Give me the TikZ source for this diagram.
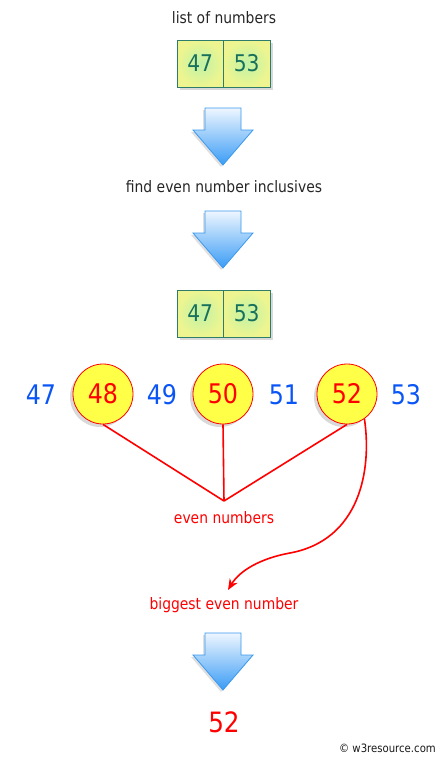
\documentclass[tikz,border=0pt]{standalone}
\usepackage{fontspec}
\setmainfont{DejaVu Sans}[FakeStretch=0.88]
\usetikzlibrary{shadows,arrows.meta}
\definecolor{boxline}{HTML}{2E7D6B}
\definecolor{boxtext}{HTML}{16705C}
\definecolor{cellin}{HTML}{C0F2A6}
\definecolor{cellout}{HTML}{EEF590}
\definecolor{numblue}{HTML}{0A55F5}
\definecolor{ballfill}{HTML}{FFFF48}
\definecolor{arrtop}{HTML}{EEF6FF}
\definecolor{arrbot}{HTML}{3A9CF5}
\definecolor{arrline}{HTML}{3A98EE}
\tikzset{
  label/.style={font=\fontsize{15.8}{18}\selectfont, text=black!85, inner sep=0pt},
  redlabel/.style={font=\fontsize{15.8}{18}\selectfont, text=red, inner sep=0pt},
  cell/.style={draw=boxline, line width=1pt, inner color=cellin, outer color=cellout,
    minimum width=46.5pt, minimum height=47pt, inner sep=0pt,
    font=\fontsize{23}{26}\selectfont, text=boxtext,
    drop shadow={shadow xshift=3pt, shadow yshift=-3pt, opacity=0.3}},
  ball/.style={circle, draw=red, line width=0.8pt, fill=ballfill, minimum size=60pt, inner sep=0pt,
    font=\fontsize{27}{30}\selectfont, text=red,
    drop shadow={shadow xshift=-3pt, shadow yshift=-3pt, opacity=0.3}},
  bluenum/.style={font=\fontsize{27}{30}\selectfont, text=numblue, inner sep=0pt},
  evenline/.style={draw=red, line width=1.6pt},
  arrowbody/.style={top color=arrtop, bottom color=arrbot, draw=arrline, line width=0.8pt,
    drop shadow={shadow xshift=-2pt, shadow yshift=-2pt, opacity=0.25}},
  bigarrow/.pic={\path[arrowbody] (-18,0) -- (18,0) -- (18,22) -- (30,22) -- (0,57) -- (-30,22) -- (-18,22) -- cycle;}
}
\begin{document}
\begin{tikzpicture}[x=1pt,y=-1pt]
\useasboundingbox (0,0) rectangle (443,764);
\node[label] (t1) at (224,18) {list of numbers};
\node[cell] (b1a) at (200.25,63.5) {47};
\node[cell] (b1b) at (246.75,63.5) {53};
\pic at (223,108) {bigarrow};
\node[label] (t2) at (224,187) {find even number inclusives};
\pic at (223,211) {bigarrow};
\node[cell] (b2a) at (200.25,313.5) {47};
\node[cell] (b2b) at (246.75,313.5) {53};
\node[bluenum] (n47) at (41,395) {47};
\node[ball] (c48) at (103,394) {48};
\node[bluenum] (n49) at (162,395) {49};
\node[ball] (c50) at (223,394) {50};
\node[bluenum] (n51) at (284,395) {51};
\node[ball] (c52) at (347,394) {52};
\node[bluenum] (n53) at (406,395) {53};
\coordinate (join) at (224,501);
\draw[evenline] (c48.south) -- (join);
\draw[evenline] (c50.south) -- (join);
\draw[evenline] (c52.south) -- (join);
\node[redlabel] (even) at (224,518) {even numbers};
\node[redlabel] (big) at (224,605) {biggest even number};
\coordinate (tip) at (228,590);
\draw[evenline, -{Stealth[length=11pt, width=9pt, inset=3.5pt]}] (c52.-55) .. controls (372,470) and (360,540) .. (290,553) .. controls (262,558) and (240,570) .. (tip);
\pic at (223,633) {bigarrow};
\node[font=\fontsize{28}{30}\selectfont, text=red, inner sep=0pt] (res) at (224,722) {52};
\node[font=\fontsize{11.5}{13}\selectfont, text=black!90, inner sep=0pt, anchor=east] (copy) at (436,748) {© w3resource.com};
\end{tikzpicture}
\end{document}
